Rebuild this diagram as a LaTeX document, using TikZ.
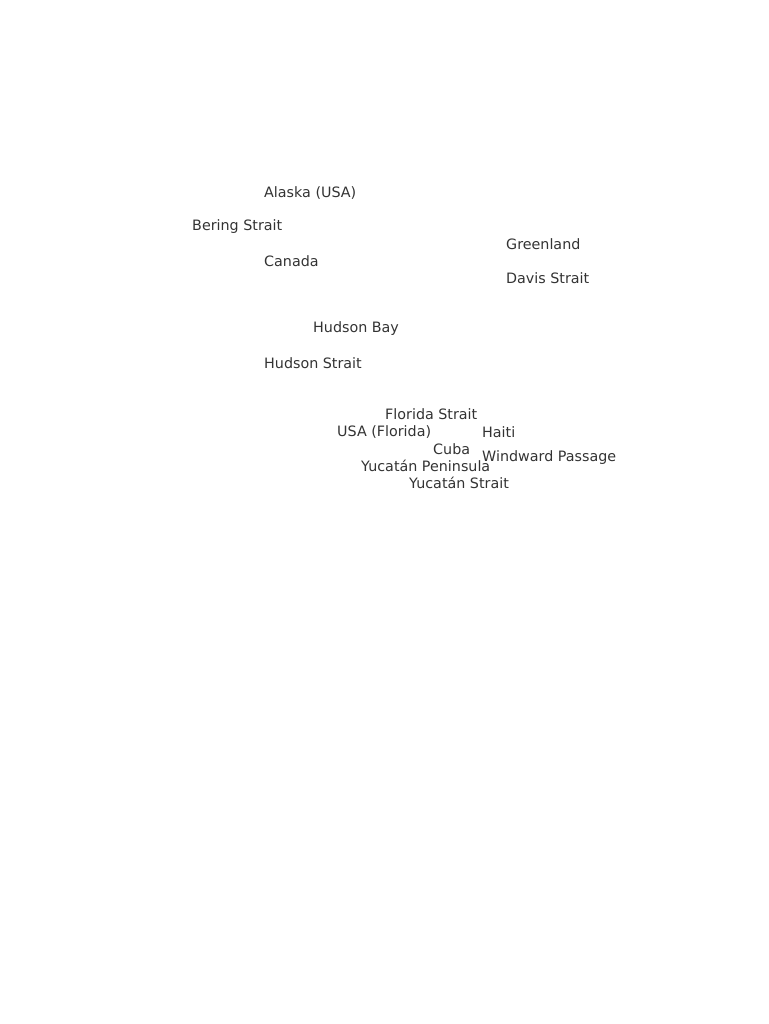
\documentclass[tikz,border=0pt]{standalone}
\usepackage{fontspec}
\setmainfont{DejaVu Sans}
\definecolor{labelgray}{HTML}{333333}
\tikzset{place/.style={anchor=west, inner sep=0pt, text=labelgray, font=\fontsize{14.3pt}{16pt}\selectfont}}
\begin{document}
\begin{tikzpicture}[x=1pt,y=-1pt]
\useasboundingbox (0,0) rectangle (768,1024);
% northern labels
\node (alaska) [place] at (264,193) {Alaska (USA)};
\node (bering) [place] at (192,227) {Bering Strait};
\node (greenland) [place] at (506,244) {Greenland};
\node (canada) [place] at (264,261) {Canada};
\node (davis) [place] at (506,278) {Davis Strait};
\node (hudsonbay) [place] at (313,329) {Hudson Bay};
\node (hudsonstrait) [place] at (264,363) {Hudson Strait};
% caribbean labels
\node (floridastrait) [place] at (385,414) {Florida Strait};
\node (florida) [place] at (337,432) {USA (Florida)};
\node (haiti) [place] at (482,432) {Haiti};
\node (cuba) [place] at (433,449) {Cuba};
\node (windward) [place] at (482,458) {Windward Passage};
\node (yucatan) [place] at (361,466) {Yucatán Peninsula};
\node (yucatanstrait) [place] at (409,483) {Yucatán Strait};
\end{tikzpicture}
\end{document}
